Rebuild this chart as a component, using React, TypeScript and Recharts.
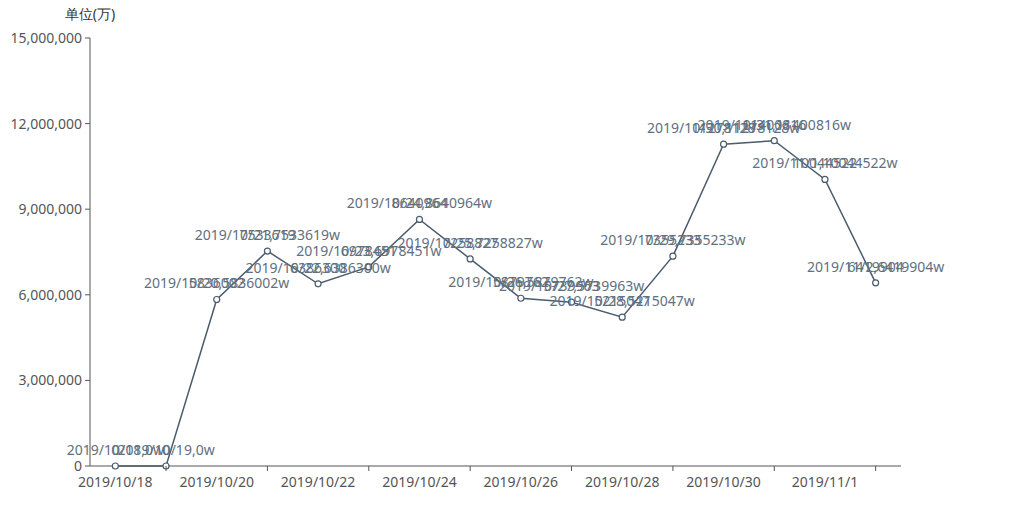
import { LineChart, Line, XAxis, YAxis, LabelList } from 'recharts'

const dates = [
  '2019/10/18', '2019/10/19', '2019/10/20', '2019/10/21', '2019/10/22', '2019/10/23',
  '2019/10/24', '2019/10/25', '2019/10/26', '2019/10/27', '2019/10/28', '2019/10/29',
  '2019/10/30', '2019/10/31', '2019/11/1', '2019/11/2',
]
const amounts = [
  0, 0, 5836002, 7533619, 6386300, 6978451, 8640964, 7258827,
  5879762, 5739963, 5215047, 7355233, 11278128, 11400816, 10044522, 6419904,
]
const yTicks = [0, 3000000, 6000000, 9000000, 12000000, 15000000]
const unitLabel = '单位(万)'

const data = dates.map((d, i) => ({
  date: d,
  amount: amounts[i],
  label: `${d},${amounts[i]}w`,
}))

const lineColor = '#4b5c6d'
const labelColor = '#607080'
const axisColor = '#555'

function DateTick(props: any) {
  const { x, y, payload, index } = props
  if (index % 2 === 1) {
    return <line x1={x} y1={y} x2={x} y2={y + 5} stroke={axisColor} strokeWidth={1} />
  }
  return (
    <text x={x} y={y + 21} textAnchor="middle" fill={axisColor} fontSize={14}>
      {payload.value}
    </text>
  )
}

function UnitLabel(props: any) {
  const { viewBox } = props
  return (
    <text x={viewBox.x + viewBox.width} y={viewBox.y - 19} textAnchor="middle" fill="#333" fontSize={14}>
      {unitLabel}
    </text>
  )
}

export default function App() {
  return (
    <div style={{ width: 1000, height: 510, fontFamily: '"Noto Sans", sans-serif' }}>
      <LineChart width={1000} height={510} data={data} margin={{ top: 30, right: 107, left: 0, bottom: 22 }}>
        <XAxis
          dataKey="date"
          interval={0}
          tickLine={false}
          tickSize={0}
          tickMargin={0}
          height={30}
          padding={{ left: 25.35, right: 25.35 }}
          stroke={axisColor}
          tick={<DateTick />}
        />
        <YAxis
          width={82}
          domain={[0, 15000000]}
          ticks={yTicks}
          interval={0}
          tickSize={5}
          tickMargin={3}
          stroke={axisColor}
          tick={{ fill: axisColor, fontSize: 14 }}
          tickFormatter={(v: number) => v.toLocaleString('en-US')}
          label={<UnitLabel />}
        />
        <Line
          type="linear"
          dataKey="amount"
          stroke={lineColor}
          strokeWidth={1.5}
          dot={{ r: 3, stroke: lineColor, strokeWidth: 1.2, fill: '#fff' }}
          isAnimationActive={false}
        >
          <LabelList dataKey="label" position="top" offset={11} fill={labelColor} fontSize={14} />
          <LabelList dataKey="amount" position="top" offset={11} fill={labelColor} fontSize={14} />
        </Line>
      </LineChart>
    </div>
  )
}
